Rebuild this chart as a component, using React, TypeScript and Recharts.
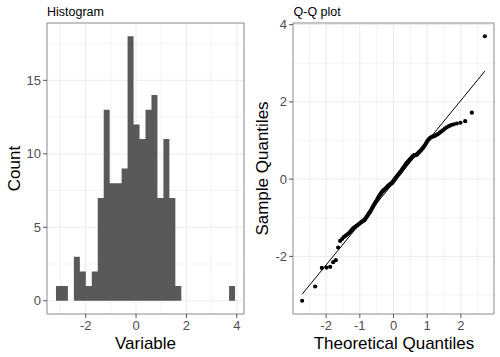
import React from 'react';
import {
  ComposedChart,
  Area,
  Scatter,
  XAxis,
  YAxis,
  CartesianGrid,
  ReferenceArea,
  ReferenceLine,
} from 'recharts';

// ---------- data ----------
const HIST_BIN_START = -3.18;
const HIST_BIN_WIDTH = 0.237;
const HIST_COUNTS = [1, 1, 0, 3, 2, 1, 2, 7, 13, 8, 8, 9, 18, 12, 11, 13, 14, 7, 11, 7, 1, 0, 0, 0, 0, 0, 0, 0, 0, 1];
const HIST_X_TICKS = [-2, 0, 2, 4];
const HIST_X_MINOR = [-3, -1, 1, 3];
const HIST_Y_TICKS = [0, 5, 10, 15];
const HIST_Y_MINOR = [2.5, 7.5, 12.5, 17.5];

const SAMPLE = [
  -3.15, -2.78,
  -2.3, -2.29, -2.27,
  -2.15, -2.1,
  -1.77,
  -1.6, -1.55,
  -1.5, -1.47, -1.44, -1.41, -1.38, -1.34, -1.3,
  -1.27, -1.25, -1.23, -1.21, -1.19, -1.17, -1.15, -1.13, -1.11, -1.1, -1.08, -1.07, -1.05,
  -1.02, -0.99, -0.96, -0.93, -0.9, -0.87, -0.85, -0.82,
  -0.78, -0.75, -0.72, -0.69, -0.66, -0.63, -0.6, -0.58,
  -0.55, -0.52, -0.49, -0.46, -0.43, -0.41, -0.39, -0.37, -0.34,
  -0.32, -0.31, -0.29, -0.28, -0.27, -0.25, -0.24, -0.22, -0.21, -0.19, -0.18, -0.17, -0.15, -0.14, -0.13, -0.12, -0.11, -0.1,
  -0.08, -0.06, -0.04, -0.02, 0.0, 0.02, 0.04, 0.06, 0.08, 0.1, 0.12, 0.13,
  0.15, 0.17, 0.19, 0.21, 0.23, 0.25, 0.28, 0.3, 0.32, 0.34, 0.36,
  0.39, 0.41, 0.43, 0.44, 0.46, 0.48, 0.5, 0.52, 0.53, 0.55, 0.57, 0.59, 0.61,
  0.615, 0.62, 0.623, 0.627, 0.64, 0.66, 0.68, 0.7, 0.72, 0.74, 0.76, 0.79, 0.81, 0.84,
  0.87, 0.91, 0.95, 0.99, 1.02, 1.05, 1.07,
  1.09, 1.1, 1.11, 1.12, 1.14, 1.16, 1.18, 1.21, 1.24, 1.27, 1.31,
  1.34, 1.37, 1.4, 1.42, 1.44, 1.46, 1.5,
  1.72,
  3.7,
];
const QQ_X_TICKS = [-2, -1, 0, 1, 2];
const QQ_X_MINOR = [-2.5, -1.5, -0.5, 0.5, 1.5, 2.5];
const QQ_Y_TICKS = [-2, 0, 2, 4];
const QQ_Y_MINOR = [-3, -1, 1, 3];

// ---------- helpers ----------
function qnorm(p: number): number {
  const a = [-3.969683028665376e1, 2.209460984245205e2, -2.759285104469687e2, 1.38357751867269e2, -3.066479806614716e1, 2.506628277459239];
  const b = [-5.447609879822406e1, 1.615858368580409e2, -1.556989798598866e2, 6.680131188771972e1, -1.328068155288572e1];
  const c = [-7.784894002430293e-3, -3.223964580411365e-1, -2.400758277161838, -2.549732539343734, 4.374664141464968, 2.938163982698783];
  const d = [7.784695709041462e-3, 3.224671290700398e-1, 2.445134137142996, 3.754408661907416];
  const pl = 0.02425;
  const ph = 1 - pl;
  if (p < pl) {
    const q = Math.sqrt(-2 * Math.log(p));
    return (((((c[0] * q + c[1]) * q + c[2]) * q + c[3]) * q + c[4]) * q + c[5]) / ((((d[0] * q + d[1]) * q + d[2]) * q + d[3]) * q + 1);
  }
  if (p <= ph) {
    const q = p - 0.5;
    const r = q * q;
    return ((((((a[0] * r + a[1]) * r + a[2]) * r + a[3]) * r + a[4]) * r + a[5]) * q) / (((((b[0] * r + b[1]) * r + b[2]) * r + b[3]) * r + b[4]) * r + 1);
  }
  const q = Math.sqrt(-2 * Math.log(1 - p));
  return -(((((c[0] * q + c[1]) * q + c[2]) * q + c[3]) * q + c[4]) * q + c[5]) / ((((d[0] * q + d[1]) * q + d[2]) * q + d[3]) * q + 1);
}

function quantile7(sorted: number[], p: number): number {
  const h = (sorted.length - 1) * p;
  const lo = Math.floor(h);
  const hi = Math.ceil(h);
  return sorted[lo] + (h - lo) * (sorted[hi] - sorted[lo]);
}

function expand(min: number, max: number): [number, number] {
  const r = max - min;
  return [min - 0.05 * r, max + 0.05 * r];
}

// ---------- derived tables ----------
const histData = HIST_COUNTS.map((count, k) => ({ x: HIST_BIN_START + k * HIST_BIN_WIDTH, count }));
histData.push({ x: HIST_BIN_START + HIST_COUNTS.length * HIST_BIN_WIDTH, count: HIST_COUNTS[HIST_COUNTS.length - 1] });
const histXDomain = expand(HIST_BIN_START, HIST_BIN_START + HIST_COUNTS.length * HIST_BIN_WIDTH);
const histYDomain = expand(0, Math.max(...HIST_COUNTS));

const sorted = [...SAMPLE].sort((p, q) => p - q);
const n = sorted.length;
const qqData = sorted.map((y, i) => ({ x: qnorm((i + 0.5) / n), y }));
const qqXDomain = expand(qqData[0].x, qqData[n - 1].x);
const qqYDomain = expand(sorted[0], sorted[n - 1]);
const slope = (quantile7(sorted, 0.75) - quantile7(sorted, 0.25)) / (qnorm(0.75) - qnorm(0.25));
const intercept = quantile7(sorted, 0.25) - slope * qnorm(0.25);
const lineSeg = [
  { x: qqData[0].x, y: intercept + slope * qqData[0].x },
  { x: qqData[n - 1].x, y: intercept + slope * qqData[n - 1].x },
];

// ---------- styles ----------
const FONT = '"Liberation Sans", Arial, Helvetica, sans-serif';
const tickStyle = { fontSize: 13, fill: '#4D4D4D', fontFamily: FONT };
const tickLine = { stroke: '#555555', strokeWidth: 1 };
const BORDER = '#8a8a8a';

export default function App() {
  return (
    <div style={{ position: 'absolute', left: 0, top: 0, width: 500, height: 357, background: '#fff' }}>
      <div style={{ position: 'absolute', left: 0, top: 0 }}>
        <ComposedChart width={250} height={357} data={histData} margin={{ top: 23, right: 6, bottom: 0, left: 0 }}>
          <CartesianGrid stroke="#F3F3F3" horizontalValues={HIST_Y_MINOR} verticalValues={HIST_X_MINOR} />
          <CartesianGrid stroke="#EBEBEB" horizontalValues={HIST_Y_TICKS} verticalValues={HIST_X_TICKS} />
          <XAxis
            type="number"
            dataKey="x"
            domain={histXDomain}
            ticks={HIST_X_TICKS}
            allowDataOverflow
            height={43}
            axisLine={false}
            tickLine={tickLine}
            tickSize={4}
            tickMargin={3}
            tick={tickStyle}
            interval={0}
          />
          <YAxis
            type="number"
            domain={histYDomain}
            ticks={HIST_Y_TICKS}
            allowDataOverflow
            width={47}
            axisLine={false}
            tickLine={tickLine}
            tickSize={4}
            tickMargin={2}
            tick={tickStyle}
            interval={0}
          />
          <Area
            type="stepAfter"
            dataKey="count"
            baseValue={0}
            fill="#595959"
            fillOpacity={1}
            stroke="none"
            isAnimationActive={false}
            dot={false}
            activeDot={false}
          />
          <ReferenceArea
            x1={histXDomain[0]}
            x2={histXDomain[1]}
            y1={histYDomain[0]}
            y2={histYDomain[1]}
            fill="none"
            stroke={BORDER}
            strokeWidth={1}
            ifOverflow="visible"
          />
        </ComposedChart>
      </div>
      <div style={{ position: 'absolute', left: 250, top: 0 }}>
        <ComposedChart width={250} height={357} margin={{ top: 23, right: 6, bottom: 0, left: 0 }}>
          <CartesianGrid stroke="#F3F3F3" horizontalValues={QQ_Y_MINOR} verticalValues={QQ_X_MINOR} />
          <CartesianGrid stroke="#EBEBEB" horizontalValues={QQ_Y_TICKS} verticalValues={QQ_X_TICKS} />
          <XAxis
            type="number"
            dataKey="x"
            domain={qqXDomain}
            ticks={QQ_X_TICKS}
            allowDataOverflow
            height={43}
            axisLine={false}
            tickLine={tickLine}
            tickSize={4}
            tickMargin={3}
            tick={tickStyle}
            interval={0}
          />
          <YAxis
            type="number"
            dataKey="y"
            domain={qqYDomain}
            ticks={QQ_Y_TICKS}
            allowDataOverflow
            width={43}
            axisLine={false}
            tickLine={tickLine}
            tickSize={4}
            tickMargin={2}
            tick={tickStyle}
            interval={0}
          />
          <ReferenceLine segment={lineSeg} stroke="#000" strokeWidth={1} ifOverflow="visible" />
          <Scatter
            data={qqData}
            isAnimationActive={false}
            shape={(p: any) => <circle cx={p.cx} cy={p.cy} r={2.1} fill="#000" />}
          />
          <ReferenceArea
            x1={qqXDomain[0]}
            x2={qqXDomain[1]}
            y1={qqYDomain[0]}
            y2={qqYDomain[1]}
            fill="none"
            stroke={BORDER}
            strokeWidth={1}
            ifOverflow="visible"
          />
        </ComposedChart>
      </div>
      <svg
        width={500}
        height={357}
        style={{ position: 'absolute', left: 0, top: 0, pointerEvents: 'none' }}
        fontFamily={FONT}
      >
        <text x={47} y={15.7} fontSize={12.5} fill="#000">Histogram</text>
        <text x={293.5} y={15.7} fontSize={12.5} fill="#000">Q-Q plot</text>
        <text x={145.5} y={349} fontSize={17} fill="#000" textAnchor="middle">Variable</text>
        <text x={394} y={349} fontSize={17} fill="#000" textAnchor="middle">Theoretical Quantiles</text>
        <text x={20} y={168.5} fontSize={17} fill="#000" textAnchor="middle" transform="rotate(-90 20 168.5)">Count</text>
        <text x={268} y={168.5} fontSize={17} fill="#000" textAnchor="middle" transform="rotate(-90 268 168.5)">Sample Quantiles</text>
      </svg>
    </div>
  );
}
